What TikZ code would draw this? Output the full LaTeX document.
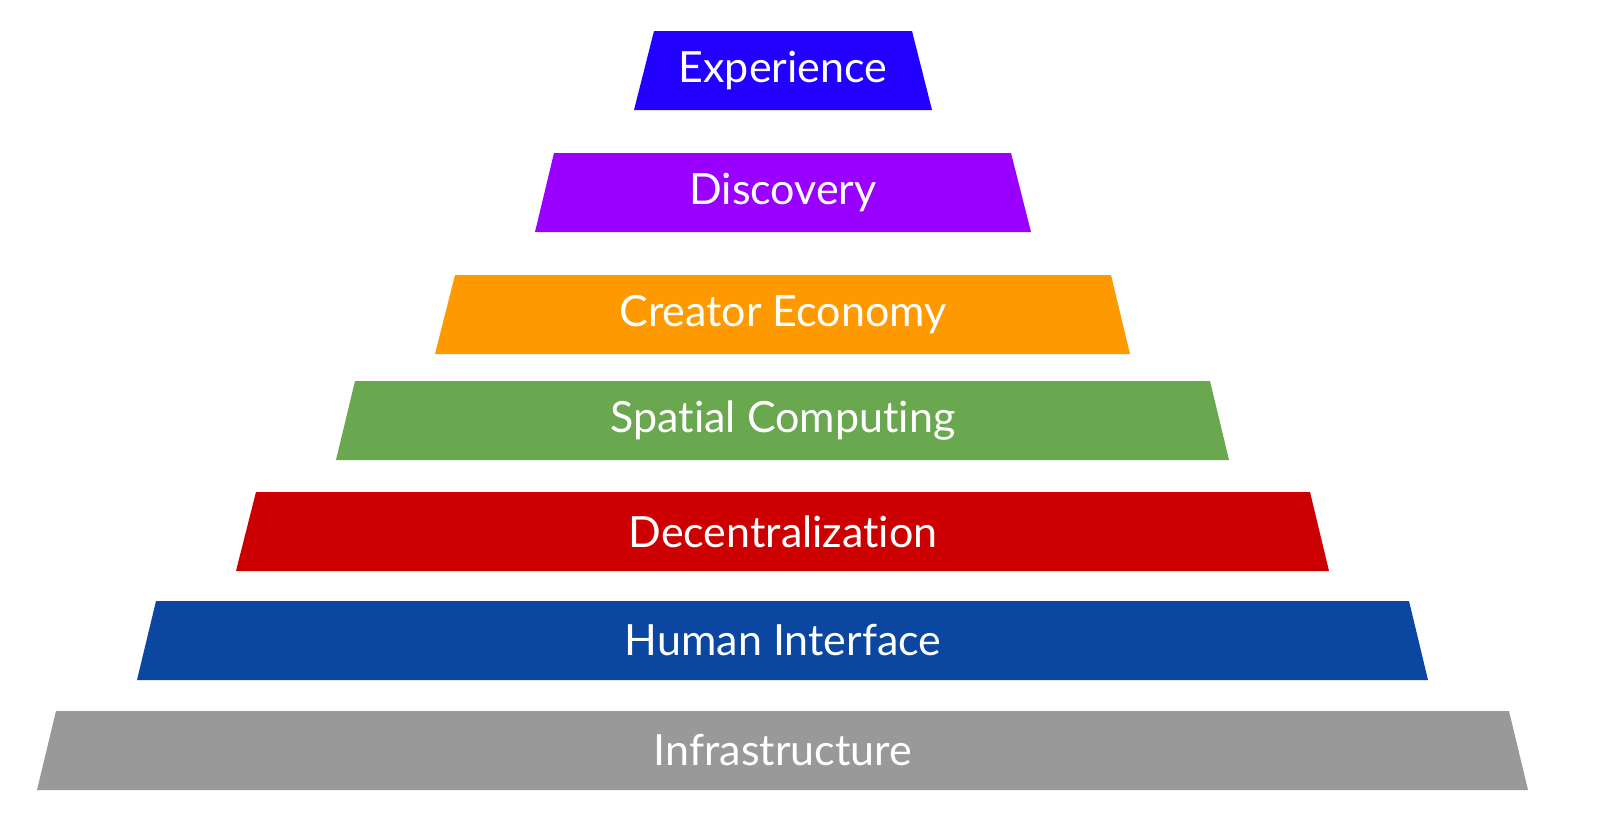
\documentclass[tikz,border=0pt]{standalone}
\usepackage{fontspec}
\setmainfont{Lato}[Ligatures=NoCommon]
\definecolor{cA}{HTML}{2200FF}
\definecolor{cB}{HTML}{9900FF}
\definecolor{cC}{HTML}{FF9900}
\definecolor{cD}{HTML}{6AA84F}
\definecolor{cE}{HTML}{CC0000}
\definecolor{cF}{HTML}{0B46A0}
\definecolor{cG}{HTML}{999999}
\begin{document}
\begin{tikzpicture}[x=1pt,y=-1pt,
  lbl/.style={text=white,font=\fontsize{43}{50}\selectfont,inner sep=0pt}]
\fill[white] (0,0) rectangle (1600,817);
\foreach \t/\b/\tl/\tr/\bl/\br/\c/\n/\txt in {
 31/110/654/912/634/932/cA/l1/Experience,
 153/232/554/1011/535/1031/cB/l2/Discovery,
 275/354/455/1111/435/1130/cC/l3/Creator Economy,
 381/460/355/1210/336/1229/cD/l4/Spatial Computing,
 492/571/256/1310/236/1329/cE/l5/Decentralization,
 601/680/156/1409/137/1428/cF/l6/Human Interface,
 711/790/56/1509/37/1528/cG/l7/Infrastructure}{
 \fill[\c] (\tl,\t) -- (\tr,\t) -- (\br,\b) -- (\bl,\b) -- cycle;
 \node[lbl] (\n) at (783,{(\t+\b)/2}) {\txt};
}
\useasboundingbox (0,0) rectangle (1600,817);
\end{tikzpicture}
\end{document}
